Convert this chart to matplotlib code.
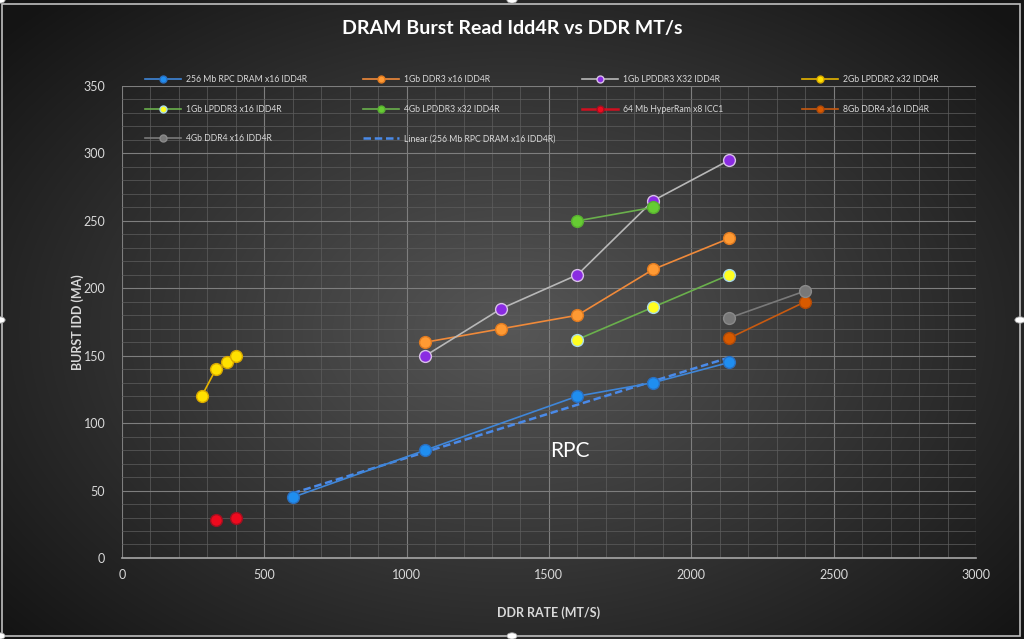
import numpy as np
import matplotlib
matplotlib.use("Agg")
import matplotlib.pyplot as plt
from matplotlib.lines import Line2D
from matplotlib.patches import Rectangle, Circle

plt.rcParams['font.family'] = ['Lato', 'DejaVu Sans']

# data
rpc_x = [600, 1066, 1600, 1866, 2133]
rpc_y = [45, 80, 120, 130, 145]
ddr3_x = [1066, 1333, 1600, 1866, 2133]
ddr3_y = [160, 170, 180, 214, 237]
lp3x32_x = [1066, 1333, 1600, 1866, 2133]
lp3x32_y = [150, 185, 210, 265, 295]
lp2_x = [280, 330, 370, 400]
lp2_y = [120, 140, 145, 150]
lp3x16_x = [1600, 1866, 2133]
lp3x16_y = [162, 186, 210]
lp3_4g_x = [1600, 1866]
lp3_4g_y = [250, 260]
hyper_x = [330, 400]
hyper_y = [28, 30]
ddr4_8g_x = [2133, 2400]
ddr4_8g_y = [163, 190]
ddr4_4g_x = [2133, 2400]
ddr4_4g_y = [178, 198]

labels = ['256 Mb RPC DRAM x16 IDD4R', '1Gb DDR3 x16 IDD4R', '1Gb LPDDR3 X32 IDD4R',
          '2Gb LPDDR2 x32 IDD4R', '1Gb LPDDR3 x16 IDD4R', '4Gb LPDDR3 x32 IDD4R',
          '64 Mb HyperRam x8 ICC1', '8Gb DDR4 x16 IDD4R', '4Gb DDR4 x16 IDD4R',
          'Linear (256 Mb RPC DRAM x16 IDD4R)']

# (line colour, marker face, marker edge) per series
styles = [('#3f86d8', '#1f8ef0', '#2a6fc0'),
          ('#f08a3a', '#ff9a33', '#e07a20'),
          ('#b8b8b8', '#8a2be2', '#d8c0e8'),
          ('#e6b400', '#ffe000', '#d8a800'),
          ('#6ab04c', '#ffff20', '#a8d8e8'),
          ('#6ab04c', '#66cc33', '#58b030'),
          ('#d01020', '#ee0a1e', '#a01020'),
          ('#c85a10', '#d85a00', '#b04a08'),
          ('#7a7a7a', '#787878', '#8a8a8a')]

fig = plt.figure(figsize=(10.24, 6.39), dpi=100)

# radial gradient background
bg = fig.add_axes([0, 0, 1, 1], zorder=-10)
yy, xx = np.mgrid[0:639, 0:1024]
r = np.sqrt(((xx - 512) / 620.0) ** 2 + ((yy - 330) / 420.0) ** 2)
shade = np.clip(0.34 - 0.24 * r, 0.08, 0.34)
bg.imshow(np.dstack([shade, shade, shade]), aspect='auto', extent=[0, 1, 0, 1])
bg.set_axis_off()

ax = fig.add_axes([0.1191, 0.1268, 0.8340, 0.7386])
ax.set_facecolor('none')

def series(x, y, i, ls='-'):
    col, face, edge = styles[i]
    ax.plot(x, y, color=col, lw=1.2, ls=ls, marker='o', ms=8.5,
            markerfacecolor=face, markeredgecolor=edge, markeredgewidth=1.0, zorder=3)

series(rpc_x, rpc_y, 0)
series(ddr3_x, ddr3_y, 1)
series(lp3x32_x, lp3x32_y, 2)
series(lp2_x, lp2_y, 3)
series(lp3x16_x, lp3x16_y, 4)
series(lp3_4g_x, lp3_4g_y, 5)
series(hyper_x, hyper_y, 6, ls='none')
series(ddr4_8g_x, ddr4_8g_y, 7)
series(ddr4_4g_x, ddr4_4g_y, 8)

# linear trend of the RPC series
k, b = np.polyfit(rpc_x, rpc_y, 1)
tx = np.array([rpc_x[0], rpc_x[-1]])
ax.plot(tx, k * tx + b, color='#4a8ae8', lw=1.8, ls=(0, (3, 1.5)), zorder=2)

ax.set_xlim(0, 3000)
ax.set_ylim(0, 350)
ax.set_xticks(np.arange(0, 3001, 500))
ax.set_yticks(np.arange(0, 351, 50))
ax.set_xticks(np.arange(0, 3001, 100), minor=True)
ax.set_yticks(np.arange(0, 351, 10), minor=True)
ax.grid(True, which='major', color='#7e7e7e', lw=0.8)
ax.grid(True, which='minor', color='#5e5e5e', lw=0.5)
ax.set_axisbelow(True)
ax.tick_params(which='both', length=0, colors='#d9d9d9', labelsize=9, pad=8)
ax.tick_params(axis='y', pad=12)
for s in ['top', 'right', 'left']:
    ax.spines[s].set_visible(False)
ax.spines['bottom'].set_color('#a6a6a6')
ax.spines['bottom'].set_linewidth(1.2)

ax.set_xlabel('DDR RATE (MT/S)', color='#d9d9d9', fontsize=9, fontweight='bold', labelpad=18)
ax.set_ylabel('BURST IDD (MA)', color='#d9d9d9', fontsize=9, fontweight='bold')
ax.yaxis.set_label_coords(-0.044, 0.5)
fig.text(0.5, 0.955, 'DRAM Burst Read Idd4R vs DDR MT/s', ha='center', va='center',
         color='white', fontsize=14, fontweight='bold')
ax.text(1505, 79, 'RPC', color='white', fontsize=15, va='center')

# legend: four columns, filled row by row
handles = [Line2D([], [], color=c, marker='o', ms=5, mfc=f, mec=e,
                  lw=1.8 if i == 6 else 1.2) for i, (c, f, e) in enumerate(styles)]
handles.append(Line2D([], [], color='#4a8ae8', lw=1.8, ls=(0, (3, 1.5))))
col_x = [138, 356, 575, 795]
for c in range(4):
    idx = list(range(c, len(labels), 4))
    leg = fig.legend([handles[i] for i in idx], [labels[i] for i in idx],
                     loc='upper left', bbox_to_anchor=(col_x[c] / 1024, 1 - 68 / 639),
                     frameon=False, fontsize=6.2, labelcolor='#d9d9d9', handlelength=4.2,
                     labelspacing=2.4, handletextpad=0.6, borderpad=0.3)

# chart selection frame and handles
fig.add_artist(Rectangle((0.002, 0.004), 0.994, 0.99, transform=fig.transFigure,
                         fill=False, ec='#bfbfbf', lw=1.2))
for px, py in [(0, 0), (512, 0), (0, 320), (1020, 320), (512, 636), (0, 636)]:
    fig.add_artist(Circle((px / 1024, 1 - py / 639), 0.005, transform=fig.transFigure,
                          fc='white', ec='#999999', lw=0.6))

fig.savefig('out.png', dpi=100)
